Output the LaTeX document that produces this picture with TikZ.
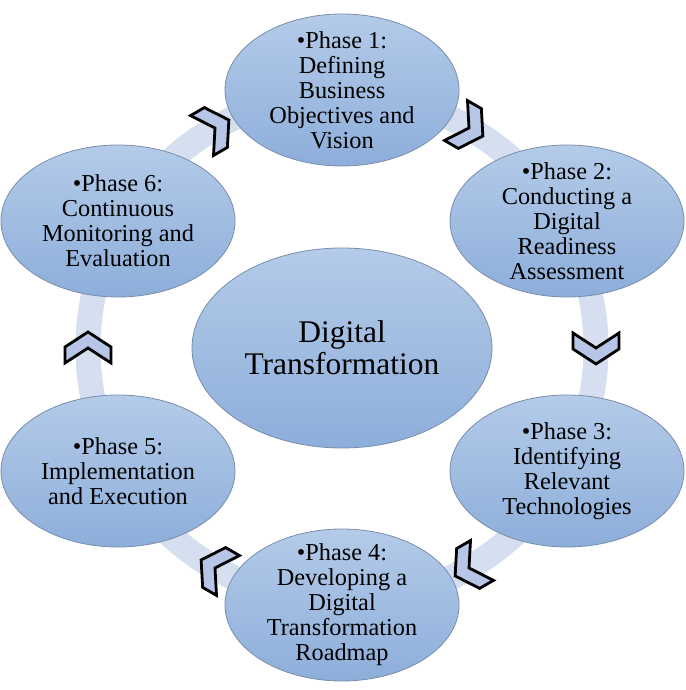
\documentclass[tikz,border=0pt]{standalone}
\usepackage{fontspec}
\setmainfont{Liberation Serif}
\usetikzlibrary{shapes.geometric}
\definecolor{ringc}{HTML}{D5DFEF}
\definecolor{ctop}{HTML}{B4CBE9}
\definecolor{cbot}{HTML}{8DAEDA}
\definecolor{edgec}{HTML}{7A8DAA}
\definecolor{chevc}{HTML}{B7C6E6}
\begin{document}
\begin{tikzpicture}[x=1pt,y=1pt,
 phase/.style={ellipse, minimum width=234pt, minimum height=152pt, inner sep=0pt,
   top color=ctop, bottom color=cbot, draw=edgec, line width=0.8pt},
 hub/.style={phase, minimum width=300pt, minimum height=200pt},
 ptext/.style={align=center, font=\fontsize{24.3}{25}\selectfont, text=black, inner sep=0pt},
 htext/.style={align=center, font=\fontsize{31.5}{32}\selectfont, text=black, inner sep=0pt},
 chev/.style={fill=chevc, draw=black, line width=2.8pt, line join=miter}]
\useasboundingbox (0,0) rectangle (685,690);
\coordinate (c) at (342,342);
\draw[ringc, line width=25pt] (c) circle[radius=254];
% ellipses
\node[hub] (hub) at (342,342) {};
\node[phase] (p1) at (342,600) {};
\node[phase] (p2) at (567,469) {};
\node[phase] (p3) at (567,219) {};
\node[phase] (p4) at (342,85) {};
\node[phase] (p5) at (118,219) {};
\node[phase] (p6) at (118,469) {};
% texts
\node[htext] (th) at (hub) {Digital\\Transformation};
\node[ptext] (t1) at (p1) {•Phase 1:\\Defining\\Business\\Objectives and\\Vision};
\node[ptext] (t2) at (p2) {•Phase 2:\\Conducting a\\Digital\\Readiness\\Assessment};
\node[ptext] (t3) at (p3) {•Phase 3:\\Identifying\\Relevant\\Technologies};
\node[ptext] (t4) at (p4) {•Phase 4:\\Developing a\\Digital\\Transformation\\Roadmap};
\node[ptext] (t5) at (p5) {•Phase 5:\\Implementation\\and Execution};
\node[ptext] (t6) at (p6) {•Phase 6:\\Continuous\\Monitoring and\\Evaluation};
% chevrons
\begin{scope}[shift={(342,342)}]
\foreach \a in {60,0,-60,-120,180,120}{
  \draw[chev, shift={(\a:254)}, rotate=\a-90]
    (-15,23) -- (0,0) -- (-15,-23) -- (1,-23) -- (16,0) -- (1,23) -- cycle;
}
\end{scope}
\end{tikzpicture}
\end{document}
